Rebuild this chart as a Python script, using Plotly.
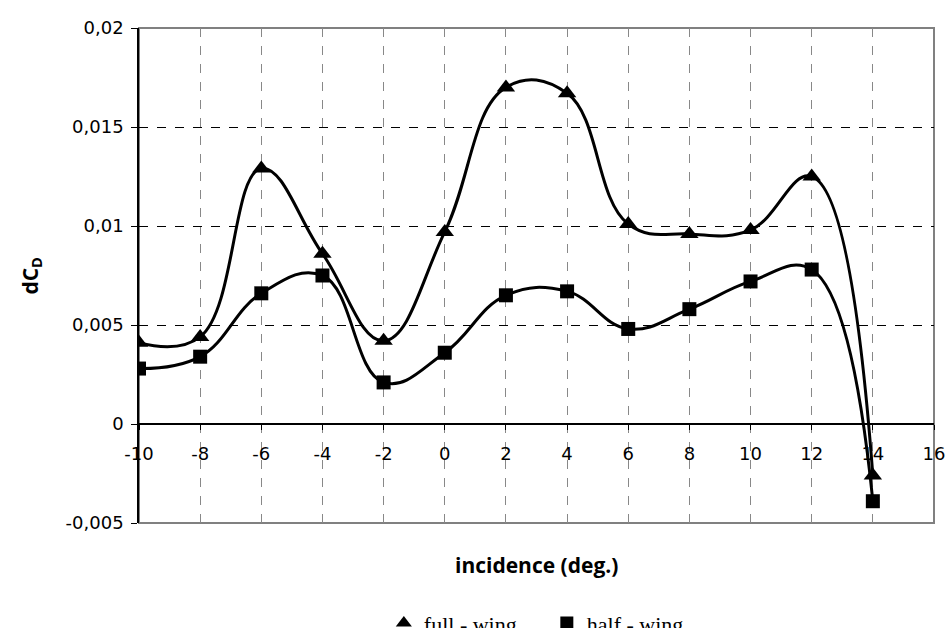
import plotly.graph_objects as go

incidence = [-10, -8, -6, -4, -2, 0, 2, 4, 6, 8, 10, 12, 14]
full_wing = [0.0041, 0.0044, 0.0129, 0.0086, 0.0042, 0.0097, 0.0170, 0.0167, 0.0101, 0.0096, 0.0098, 0.0125, -0.0026]
half_wing = [0.0028, 0.0034, 0.0066, 0.0075, 0.0021, 0.0036, 0.0065, 0.0067, 0.0048, 0.0058, 0.0072, 0.0078, -0.0039]

x_ticks = [-10, -8, -6, -4, -2, 0, 2, 4, 6, 8, 10, 12, 14, 16]
y_ticks = [-0.005, 0, 0.005, 0.01, 0.015, 0.02]
y_tick_text = ["-0,005", "0", "0,005", "0,01", "0,015", "0,02"]

fig = go.Figure()

fig.add_trace(go.Scatter(x=incidence, y=full_wing, mode="lines+markers",
                         line=dict(color="black", width=3, shape="spline", smoothing=1.2),
                         marker=dict(symbol="triangle-up", size=16, color="black"),
                         showlegend=False))
fig.add_trace(go.Scatter(x=incidence, y=half_wing, mode="lines+markers",
                         line=dict(color="black", width=3, shape="spline", smoothing=1.2),
                         marker=dict(symbol="square", size=14, color="black"),
                         showlegend=False))
# legend entries (markers only)
fig.add_trace(go.Scatter(x=[None], y=[None], mode="markers", name="full - wing",
                         marker=dict(symbol="triangle-up", size=14, color="black")))
fig.add_trace(go.Scatter(x=[None], y=[None], mode="markers", name="half - wing",
                         marker=dict(symbol="square", size=13, color="black")))

fig.update_layout(
    width=952, height=628,
    margin=dict(l=139, r=18, t=28, b=105, autoexpand=False),
    paper_bgcolor="white", plot_bgcolor="white",
    font=dict(family="DejaVu Sans", color="black", size=16),
    xaxis=dict(range=[-10, 16], tickvals=x_ticks, ticktext=[str(v) for v in x_ticks],
               anchor="free", position=0.2, automargin=False,
               showline=True, linecolor="black", linewidth=1.5,
               ticks="outside", ticklen=5, tickcolor="black", ticklabelstandoff=9,
               showgrid=True, gridcolor="#888888", griddash="dash", gridwidth=1,
               zeroline=False, tickfont=dict(size=18)),
    yaxis=dict(range=[-0.005, 0.02], tickvals=y_ticks, ticktext=y_tick_text,
               automargin=False,
               showline=True, linecolor="black", linewidth=1.5,
               ticks="outside", ticklen=6, tickcolor="black", ticklabelstandoff=4,
               showgrid=True, gridcolor="black", griddash="dash", gridwidth=1,
               zeroline=False, tickfont=dict(size=18)),
    legend=dict(orientation="h", x=0.513, xanchor="center", y=-0.16, yanchor="top",
                font=dict(family="Liberation Serif", size=22), itemsizing="trace",
                entrywidth=118, entrywidthmode="pixels"),
    shapes=[dict(type="rect", xref="paper", yref="paper", x0=0, x1=1, y0=0, y1=1,
                 line=dict(color="#808080", width=2), layer="below")],
    annotations=[
        dict(text="<b>incidence (deg.)</b>", xref="paper", yref="paper", x=0.5, y=-0.085,
             xanchor="center", yanchor="middle", showarrow=False,
             font=dict(family="Open Sans", size=21)),
        dict(text="<b>dC<sub>D</sub></b>", xref="paper", yref="paper", x=-0.137, y=0.5,
             xanchor="center", yanchor="middle", showarrow=False, textangle=-90,
             font=dict(family="Open Sans", size=21)),
    ],
)

fig.write_html("out.html")
